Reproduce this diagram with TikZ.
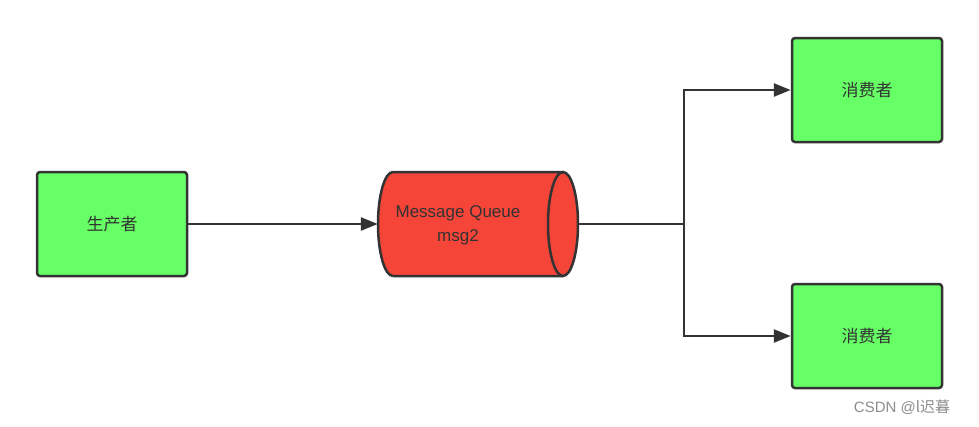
\documentclass[tikz,border=0pt]{standalone}
\usepackage{fontspec}
\setmainfont{Liberation Sans}
\newfontfamily\cjk{Noto Sans CJK SC}
\usetikzlibrary{arrows.meta}
\definecolor{gfill}{RGB}{102,255,102}
\definecolor{rfill}{RGB}{245,68,56}
\definecolor{stroke}{RGB}{51,51,51}
\begin{document}
\begin{tikzpicture}[x=1pt,y=-1pt,
 box/.style={draw=stroke,line width=2.5pt,fill=gfill,rounded corners=3pt,minimum width=150pt,minimum height=104pt,inner sep=0pt,font=\cjk\fontsize{17}{20}\selectfont,text=stroke},
 con/.style={draw=stroke,line width=2.5pt,-{Triangle[length=17pt,width=13pt]}},
 ln/.style={draw=stroke,line width=2.5pt}]
\useasboundingbox (0,0) rectangle (979,426);
\node[box] (p) at (112,224) {生产者};
\node[box] (c1) at (867,90) {消费者};
\node[box] (c2) at (867,336) {消费者};
\fill[rfill] (393,172) -- (563,172) arc[start angle=270,end angle=450,x radius=15,y radius=52] -- (393,276) arc[start angle=90,end angle=270,x radius=15,y radius=52] -- cycle;
\draw[ln] (393,172) -- (563,172) (393,276) -- (563,276) (393,276) arc[start angle=90,end angle=270,x radius=15,y radius=52];
\draw[ln] (563,224) ellipse[x radius=15,y radius=52];
\node[minimum width=200pt,minimum height=104pt,inner sep=0pt] (mq) at (478,224) {};
\node[align=center,font=\fontsize{17}{24}\selectfont,text=stroke] (t) at (458,225) {Message Queue\\msg2};
\coordinate (j) at (684,224);
\draw[con] (p.east) -- (mq.west);
\draw[ln] (mq.east) -- (j);
\draw[con] (j) |- (c1.west);
\draw[con] (j) |- (c2.west);
\node[text=black!45,font=\fontsize{15}{17}\selectfont] (w) at (902,407) {CSDN @{\cjk l迟暮}};
\end{tikzpicture}
\end{document}
